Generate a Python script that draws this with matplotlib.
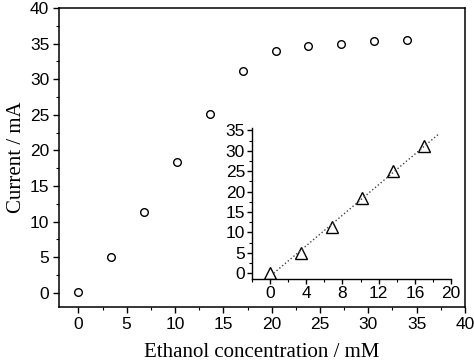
import matplotlib
matplotlib.use("Agg")
import matplotlib.pyplot as plt
import numpy as np
from matplotlib.ticker import MultipleLocator

# ethanol concentration (mM) and current (mA)
conc = [0, 3.4, 6.8, 10.2, 13.6, 17.0, 20.4, 23.8, 27.2, 30.6, 34.0]
current = [0.1, 5.0, 11.3, 18.4, 25.1, 31.1, 33.9, 34.7, 35.0, 35.3, 35.5]

# linear region shown in the inset
conc_lin = conc[:6]
current_lin = current[:6]

tick_font = "Liberation Sans"
label_font = "Liberation Serif"

fig = plt.figure(figsize=(4.74, 3.64), dpi=100)
ax = fig.add_axes([59 / 474, 1 - 307 / 364, (465 - 59) / 474, (307 - 8) / 364])

ax.plot(conc, current, "o", mfc="none", mec="black", ms=5.5, mew=1)
ax.set_xlim(-2, 40)
ax.set_ylim(-2, 40)
ax.xaxis.set_major_locator(MultipleLocator(5))
ax.xaxis.set_minor_locator(MultipleLocator(2.5))
ax.yaxis.set_major_locator(MultipleLocator(5))
ax.yaxis.set_minor_locator(MultipleLocator(2.5))
ax.tick_params(which="major", direction="out", length=4, width=1, labelsize=12.5, pad=3)
ax.tick_params(which="minor", direction="out", length=2.5, width=0.8)
for lab in ax.get_xticklabels() + ax.get_yticklabels():
    lab.set_fontfamily(tick_font)
for s in ax.spines.values():
    s.set_linewidth(1.1)
ax.set_xlabel("Ethanol concentration / mM", family=label_font, fontsize=15, labelpad=8)
ax.set_ylabel("Current / mA", family=label_font, fontsize=15, labelpad=3)

# inset
ins = fig.add_axes([252 / 474, 1 - 279 / 364, (451 - 252) / 474, (279 - 128) / 364])
ins.plot(conc_lin, current_lin, "^", mfc="none", mec="black", ms=9, mew=1)
k, b = np.polyfit(conc_lin, current_lin, 1)
xf = np.array([0.4, 18.7])
ins.plot(xf, k * xf + b, ":", color="#444444", lw=1)
ins.set_xlim(-2, 20)
ins.set_ylim(-1.4, 35.6)
ins.spines["top"].set_visible(False)
ins.spines["right"].set_visible(False)
ins.xaxis.set_major_locator(MultipleLocator(4))
ins.xaxis.set_minor_locator(MultipleLocator(2))
ins.yaxis.set_major_locator(MultipleLocator(5))
ins.yaxis.set_minor_locator(MultipleLocator(2.5))
ins.tick_params(which="major", direction="out", length=3.5, width=1, labelsize=12.5, pad=1.5)
ins.tick_params(which="minor", direction="out", length=2, width=0.8)
for lab in ins.get_xticklabels() + ins.get_yticklabels():
    lab.set_fontfamily(tick_font)
for s in ins.spines.values():
    s.set_linewidth(1)
ins.patch.set_alpha(0)

fig.savefig("out.png", dpi=100)
